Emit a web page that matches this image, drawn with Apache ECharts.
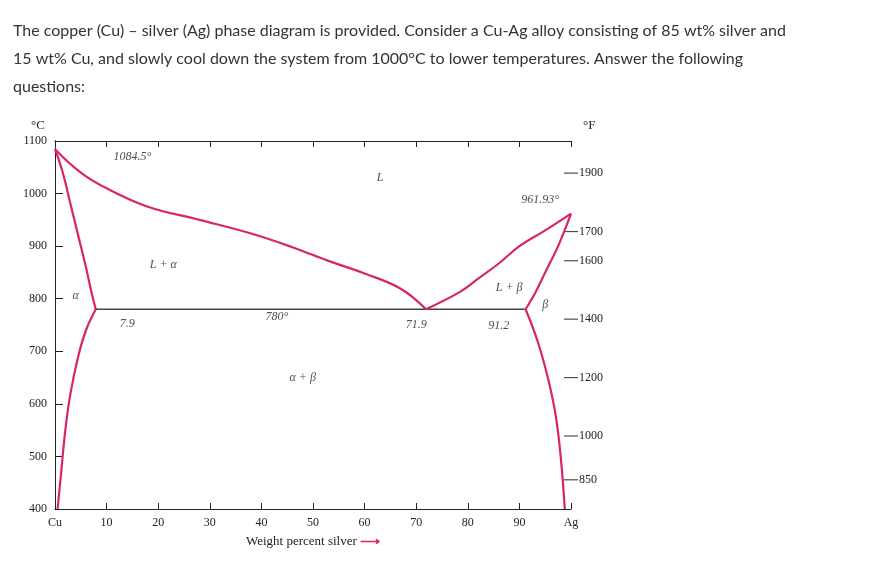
<!DOCTYPE html>
<html><head><meta charset="utf-8">
<script src="https://cdn.jsdelivr.net/npm/echarts@6/dist/echarts.min.js"></script>
<style>html,body{margin:0;padding:0;background:#fff}#c{width:891px;height:573px}</style>
</head><body><div id="c"></div>
<script>
const questionText = "The copper (Cu) – silver (Ag) phase diagram is provided. Consider a Cu-Ag alloy consisting of 85 wt% silver and\n15 wt% Cu, and slowly cool down the system from 1000°C to lower temperatures. Answer the following\nquestions:";
const xTicks = [0,10,20,30,40,50,60,70,80,90,100];
const fTicks = [850,1000,1200,1400,1600,1700,1900];
const liquidusCu = [[0,1084.5],[5,1040],[10,1010],[18,975],[28,950],[38,924],[46,898],[53,872],[60,848],[67,819],[71.9,780]];
const liquidusAg = [[71.9,780],[78.5,813],[82,838],[86,867],[90,900],[95,930],[100,961.9]];
const solidusAlpha = [[0,1084.5],[1.5,1040],[3,980],[4.5,920],[6,860],[7,815],[7.9,780]];
const solvusAlpha = [[7.9,780],[6,740],[4.5,690],[3,620],[2,550],[1.2,470],[0.5,400]];
const solidusBeta = [[100,961.9],[97.5,900],[95,850],[93,810],[91.2,780]];
const solvusBeta = [[91.2,780],[93.5,720],[95.5,650],[97,580],[98,500],[98.8,400]];
const eutectic = [[7.9,780],[91.2,780]];
const labels = [
  {v:[63,1030],t:"L"},{v:[21,865],t:"L + α"},{v:[88,820],t:"L + β"},
  {v:[4,805],t:"α"},{v:[95,788],t:"β"},{v:[48,650],t:"α + β"},
  {v:[15,1070],t:"1084.5°"},{v:[94,988],t:"961.93°"},{v:[43,765],t:"780°"},
  {v:[14,752],t:"7.9"},{v:[70,750],t:"71.9"},{v:[86,748],t:"91.2"}
];
const pink = "#d8236f";
const line = (d,c,w)=>({type:'line',data:d,smooth:0.4,symbol:'none',lineStyle:{color:c||pink,width:2.2},z:3});
const chart = echarts.init(document.getElementById('c'));
const serif = "Liberation Serif";
chart.setOption({
  animation:false,
  title:[{text:questionText,left:8,top:12,textStyle:{fontFamily:'Lato',fontSize:16,fontWeight:'normal',color:'#333',lineHeight:28}},
    {text:'°C',left:26,top:114,textStyle:{fontFamily:serif,fontSize:13,fontWeight:'normal',color:'#222'}},
    {text:'°F',left:578,top:114,textStyle:{fontFamily:serif,fontSize:13,fontWeight:'normal',color:'#222'}}],
  grid:{left:55,right:320,top:141,bottom:64},
  xAxis:[{type:'value',min:0,max:100,interval:10,
    axisLine:{lineStyle:{color:'#222'}},axisTick:{inside:true,length:6},splitLine:{show:false},
    axisLabel:{fontFamily:serif,fontSize:12,color:'#222',formatter:v=>v===0?'Cu':v===100?'Ag':String(v)},
    name:'{a|Weight percent silver} {b|⟶}',nameLocation:'middle',nameGap:26,
    nameTextStyle:{rich:{a:{fontFamily:serif,fontSize:13,color:'#222'},b:{color:pink,fontSize:14,fontWeight:'bold'}}}},
   {type:'value',position:'top',min:0,max:100,interval:10,axisLine:{lineStyle:{color:'#222'}},axisTick:{inside:true,length:6},axisLabel:{show:false},splitLine:{show:false}}],
  yAxis:[{type:'value',min:400,max:1100,interval:100,
    axisLine:{show:true,lineStyle:{color:'#222'}},axisTick:{inside:true,length:8},splitLine:{show:false},
    axisLabel:{fontFamily:serif,fontSize:12,color:'#222',formatter:v=>String(v)}},
   {type:'value',position:'right',min:750,max:2010,interval:50,
    axisLine:{show:true,lineStyle:{color:'#222'}},axisTick:{show:false},splitLine:{show:false},
    axisLabel:{fontFamily:serif,fontSize:12,color:'#222',formatter:v=>fTicks.includes(v)?String(v):''}}],
  series:[
    line(liquidusCu),line(liquidusAg),line(solidusAlpha),line(solvusAlpha),line(solidusBeta),line(solvusBeta),
    {type:'line',data:eutectic,symbol:'none',lineStyle:{color:'#444',width:1.5},z:2},
    {type:'scatter',yAxisIndex:1,data:fTicks.map(f=>[100,f]),symbol:'rect',symbolSize:[14,1.2],itemStyle:{color:'#222'},silent:true},
    {type:'scatter',data:labels.map(l=>({value:l.v,name:l.t})),symbolSize:0,
     label:{show:true,position:'inside',formatter:p=>p.name,fontFamily:serif,fontStyle:'italic',fontSize:12,color:'#222'}}
  ]
});
</script></body></html>
